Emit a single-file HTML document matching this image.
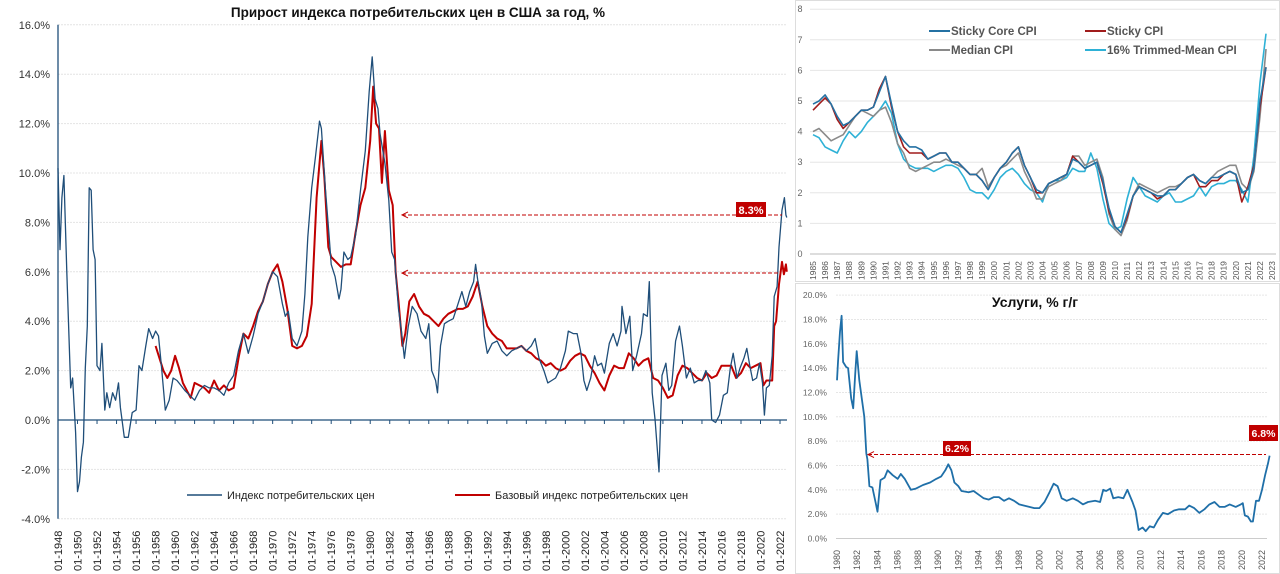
<!DOCTYPE html>
<html><head><meta charset="utf-8">
<style>
html,body{margin:0;padding:0;background:#fff;}
body{width:1280px;height:574px;overflow:hidden;position:relative;font-family:"Liberation Sans","DejaVu Sans",sans-serif;}
svg{position:absolute;left:0;top:0;}
text{font-family:"Liberation Sans","DejaVu Sans",sans-serif;}
</style></head>
<body>
<svg id="s" width="1280" height="574" viewBox="0 0 1280 574"></svg>
<script>
// ===== Main chart data =====
const cpiYears=[1948.0,1948.2,1948.4,1948.6,1948.9,1949.3,1949.5,1949.8,1950.0,1950.2,1950.4,1950.6,1950.8,1951.0,1951.2,1951.4,1951.6,1951.8,1952.0,1952.3,1952.5,1952.8,1953.0,1953.3,1953.6,1953.9,1954.2,1954.4,1954.8,1955.2,1955.6,1956.0,1956.3,1956.6,1957.0,1957.3,1957.7,1958.0,1958.3,1958.6,1959.0,1959.4,1959.8,1960.2,1960.6,1961.0,1961.5,1962.0,1962.5,1963.0,1963.5,1964.0,1964.5,1965.0,1965.5,1966.0,1966.5,1967.0,1967.5,1968.0,1968.5,1969.0,1969.5,1970.0,1970.5,1971.0,1971.3,1971.6,1972.0,1972.5,1973.0,1973.3,1973.6,1974.0,1974.4,1974.8,1975.0,1975.4,1975.8,1976.0,1976.4,1976.8,1977.0,1977.3,1977.7,1978.0,1978.5,1979.0,1979.5,1979.9,1980.2,1980.5,1980.8,1981.0,1981.5,1981.9,1982.2,1982.5,1982.9,1983.2,1983.5,1983.9,1984.3,1984.8,1985.2,1985.7,1986.0,1986.3,1986.7,1986.9,1987.2,1987.6,1988.0,1988.5,1989.0,1989.4,1989.8,1990.2,1990.6,1990.8,1991.0,1991.4,1991.7,1992.0,1992.5,1993.0,1993.5,1994.0,1994.5,1995.0,1995.5,1996.0,1996.5,1996.9,1997.3,1997.8,1998.2,1998.6,1999.0,1999.5,2000.0,2000.3,2000.8,2001.2,2001.6,2001.9,2002.2,2002.6,2003.0,2003.3,2003.7,2004.0,2004.5,2004.9,2005.3,2005.7,2005.8,2006.2,2006.6,2006.9,2007.3,2007.8,2008.0,2008.4,2008.6,2008.9,2009.2,2009.6,2009.9,2010.3,2010.6,2010.9,2011.3,2011.7,2012.0,2012.4,2012.8,2013.2,2013.6,2014.0,2014.4,2014.8,2015.0,2015.4,2015.8,2016.2,2016.6,2016.9,2017.2,2017.6,2017.9,2018.3,2018.6,2018.9,2019.2,2019.6,2019.9,2020.2,2020.4,2020.6,2020.9,2021.2,2021.4,2021.7,2021.9,2022.2,2022.45,2022.6,2022.7];
const cpiValues=[10.2,6.9,9.0,9.9,6.0,1.3,1.7,-0.5,-2.9,-2.5,-1.5,-0.9,2.1,3.8,9.4,9.3,6.9,6.5,2.2,2.0,3.1,0.4,1.1,0.5,1.1,0.8,1.5,0.5,-0.7,-0.7,0.3,0.4,2.2,2.0,3.0,3.7,3.3,3.6,3.4,2.2,0.4,0.8,1.7,1.6,1.4,1.2,1.0,0.8,1.2,1.4,1.3,1.3,1.2,1.0,1.5,1.8,2.8,3.5,2.7,3.4,4.3,4.8,5.5,6.0,5.8,4.7,4.2,4.4,3.3,3.0,3.6,5.1,7.4,9.4,10.7,12.1,11.8,9.4,7.4,6.3,5.8,4.9,5.3,6.8,6.5,6.6,7.5,9.3,10.9,13.3,14.7,13.0,12.6,11.6,10.4,8.9,6.8,6.5,4.5,3.6,2.5,3.8,4.6,4.3,3.6,3.3,3.9,2.0,1.6,1.1,3.0,3.9,4.0,4.1,4.7,5.2,4.6,5.2,5.6,6.3,5.7,4.8,3.4,2.7,3.1,3.2,2.8,2.6,2.8,2.9,3.0,2.8,3.0,3.3,2.5,2.0,1.5,1.6,1.7,2.1,2.8,3.6,3.5,3.5,2.7,1.6,1.2,1.7,2.6,2.2,2.3,1.9,3.1,3.5,3.0,3.6,4.6,3.5,4.2,2.0,2.6,3.5,4.3,4.2,5.6,1.1,0.0,-2.1,1.8,2.3,1.2,1.4,3.2,3.8,3.0,1.7,2.1,1.5,1.6,1.6,2.0,1.5,0.0,-0.1,0.2,1.0,1.1,2.1,2.7,1.7,2.1,2.5,2.9,2.2,1.6,1.7,2.3,1.5,0.2,1.3,1.4,2.6,5.0,5.4,7.0,8.5,9.0,8.3,8.2];
const coreYears=[1958.0,1958.4,1958.8,1959.2,1959.6,1960.0,1960.4,1960.8,1961.2,1961.6,1962.0,1962.5,1963.0,1963.5,1964.0,1964.5,1965.0,1965.5,1966.0,1966.5,1967.0,1967.5,1968.0,1968.5,1969.0,1969.5,1970.0,1970.5,1971.0,1971.5,1972.0,1972.5,1973.0,1973.5,1974.0,1974.5,1975.0,1975.3,1975.7,1976.0,1976.5,1977.0,1977.5,1978.0,1978.5,1979.0,1979.5,1980.0,1980.3,1980.6,1980.9,1981.2,1981.5,1981.9,1982.3,1982.6,1982.9,1983.3,1983.6,1984.0,1984.5,1985.0,1985.5,1986.0,1986.5,1987.0,1987.5,1988.0,1988.5,1989.0,1989.5,1990.0,1990.5,1991.0,1991.5,1992.0,1992.5,1993.0,1993.5,1994.0,1994.5,1995.0,1995.5,1996.0,1996.5,1997.0,1997.5,1998.0,1998.5,1999.0,1999.5,2000.0,2000.5,2001.0,2001.5,2002.0,2002.5,2003.0,2003.5,2004.0,2004.5,2005.0,2005.5,2006.0,2006.5,2007.0,2007.5,2008.0,2008.5,2009.0,2009.5,2010.0,2010.5,2011.0,2011.5,2012.0,2012.5,2013.0,2013.5,2014.0,2014.5,2015.0,2015.5,2016.0,2016.5,2017.0,2017.5,2018.0,2018.5,2019.0,2019.5,2020.0,2020.3,2020.6,2020.9,2021.2,2021.4,2021.6,2021.9,2022.2,2022.4,2022.6,2022.7];
const coreValues=[3.0,2.5,2.0,1.7,2.0,2.6,2.1,1.5,1.2,0.9,1.5,1.4,1.3,1.1,1.6,1.2,1.4,1.2,1.3,2.5,3.5,3.3,3.8,4.4,4.8,5.5,6.0,6.3,5.6,4.5,3.0,2.9,3.0,3.4,4.7,9.0,11.3,9.8,7.0,6.6,6.4,6.2,6.3,6.3,7.6,8.7,9.4,11.3,13.5,12.0,11.8,9.6,11.7,9.3,8.7,6.0,4.8,3.0,3.5,4.8,5.1,4.6,4.3,4.2,4.0,3.8,4.1,4.3,4.4,4.5,4.5,4.6,5.0,5.6,4.6,3.8,3.5,3.3,3.2,2.9,2.9,2.9,3.0,2.8,2.7,2.5,2.4,2.2,2.3,2.1,2.0,2.1,2.4,2.6,2.7,2.6,2.2,1.9,1.5,1.2,1.8,2.2,2.1,2.1,2.7,2.5,2.2,2.4,2.5,1.7,1.6,1.3,0.9,1.0,1.8,2.2,2.1,1.9,1.7,1.6,1.9,1.7,1.8,2.2,2.2,2.2,1.7,1.9,2.3,2.1,2.2,2.3,1.4,1.6,1.6,1.6,3.8,4.0,5.5,6.4,5.9,6.3,6.0];
const mainTicks=[16,14,12,10,8,6,4,2,0,-2,-4];
const mainYearLabels=[1948,1950,1952,1954,1956,1958,1960,1962,1964,1966,1968,1970,1972,1974,1976,1978,1980,1982,1984,1986,1988,1990,1992,1994,1996,1998,2000,2002,2004,2006,2008,2010,2012,2014,2016,2018,2020,2022];

// ===== Top-right chart data (semi-annual from 1985.0) =====
const tStart=1985, tStep=0.5;
const stickyCore=[4.9,5.0,5.2,4.9,4.5,4.2,4.3,4.5,4.7,4.7,4.8,5.3,5.8,4.9,4.0,3.7,3.5,3.5,3.4,3.1,3.2,3.3,3.3,3.0,3.0,2.8,2.6,2.6,2.4,2.1,2.5,2.8,3.0,3.3,3.5,2.9,2.5,2.1,2.0,2.3,2.4,2.5,2.6,3.1,3.0,2.8,2.9,3.0,2.4,1.5,0.9,0.7,1.3,1.9,2.2,2.1,2.0,1.9,1.9,2.1,2.1,2.3,2.5,2.6,2.4,2.3,2.5,2.5,2.6,2.7,2.6,2.0,2.1,2.8,5.0,6.1];
const stickyCPI=[4.7,4.9,5.1,4.9,4.4,4.1,4.3,4.5,4.7,4.7,4.8,5.4,5.8,4.8,4.0,3.5,3.3,3.3,3.3,3.1,3.2,3.3,3.3,3.0,3.0,2.8,2.6,2.6,2.4,2.1,2.5,2.8,3.0,3.3,3.5,2.9,2.5,2.0,2.0,2.3,2.4,2.5,2.6,3.2,3.0,2.8,2.9,3.0,2.3,1.4,0.9,0.7,1.2,1.9,2.2,2.1,2.0,1.8,1.9,2.1,2.1,2.3,2.5,2.6,2.2,2.2,2.4,2.4,2.6,2.7,2.6,1.7,2.2,2.9,4.8,6.1];
const medianCPI=[4.0,4.1,3.9,3.7,3.8,3.9,4.2,4.5,4.7,4.6,4.5,4.7,4.8,4.3,3.6,3.3,2.8,2.7,2.8,2.9,3.0,3.0,3.1,3.0,2.9,2.8,2.6,2.6,2.8,2.2,2.5,2.8,2.9,3.1,3.3,2.7,2.3,1.8,1.8,2.2,2.3,2.4,2.6,3.2,3.2,2.9,3.0,3.1,2.5,1.3,0.8,0.6,1.1,1.9,2.3,2.2,2.1,2.0,2.1,2.2,2.2,2.3,2.5,2.6,2.4,2.3,2.5,2.7,2.8,2.9,2.9,2.3,2.1,2.7,4.5,6.7];
const trimmedCPI=[3.9,3.8,3.5,3.4,3.3,3.7,4.0,3.8,4.0,4.3,4.5,4.7,5.0,4.6,3.6,3.1,2.9,2.8,2.8,2.8,2.7,2.8,2.9,2.9,2.8,2.5,2.1,2.0,2.0,1.8,2.1,2.5,2.7,2.8,2.6,2.3,2.1,2.0,1.7,2.3,2.4,2.4,2.5,2.8,2.7,2.7,3.3,2.8,1.8,1.0,0.8,0.9,1.8,2.5,2.2,1.9,1.8,1.7,1.9,2.0,1.7,1.7,1.8,1.9,2.2,1.9,2.2,2.3,2.3,2.4,2.4,2.1,1.7,3.2,5.6,7.2];
const trTicks=[0,1,2,3,4,5,6,7,8];

// ===== Bottom-right chart data =====
const svcYears=[1980.0,1980.1,1980.3,1980.45,1980.6,1980.9,1981.1,1981.4,1981.6,1981.8,1981.95,1982.2,1982.5,1982.7,1982.9,1983.0,1983.2,1983.5,1983.8,1984.0,1984.3,1984.7,1985.0,1985.5,1986.0,1986.3,1986.7,1987.3,1987.8,1988.5,1989.2,1989.8,1990.3,1990.7,1991.0,1991.3,1991.6,1992.0,1992.3,1993.0,1993.5,1994.0,1994.5,1995.0,1995.5,1996.0,1996.5,1997.0,1997.5,1998.0,1998.5,1999.0,1999.5,2000.0,2000.5,2001.0,2001.4,2001.8,2002.2,2002.7,2003.3,2003.8,2004.3,2004.8,2005.5,2006.0,2006.3,2006.6,2007.0,2007.3,2007.8,2008.3,2008.7,2009.2,2009.5,2009.8,2010.2,2010.5,2010.9,2011.3,2011.7,2012.2,2012.7,2013.3,2013.8,2014.4,2014.8,2015.3,2015.8,2016.3,2016.8,2017.3,2017.8,2018.3,2018.8,2019.4,2019.9,2020.1,2020.3,2020.6,2020.9,2021.1,2021.4,2021.7,2022.0,2022.3,2022.6,2022.75];
const svcValues=[13.0,14.5,17.0,18.3,14.5,14.1,14.0,11.5,10.7,13.5,15.4,13.0,11.2,10.0,7.0,6.5,4.3,4.2,3.0,2.2,4.8,5.0,5.6,5.2,4.9,5.3,4.9,4.0,4.1,4.4,4.6,4.9,5.1,5.6,6.1,5.6,4.6,4.3,3.9,3.8,3.9,3.6,3.3,3.2,3.4,3.4,3.1,3.3,3.1,2.8,2.7,2.6,2.5,2.5,3.0,3.8,4.5,4.3,3.3,3.1,3.3,3.1,2.8,3.0,3.1,3.0,4.0,3.9,4.1,3.3,3.4,3.3,4.0,3.0,2.3,0.7,0.9,0.6,1.0,0.9,1.5,2.1,2.0,2.3,2.4,2.4,2.7,2.5,2.1,2.4,2.8,3.0,2.6,2.6,2.8,2.6,2.8,2.9,1.9,1.8,1.4,1.4,3.1,3.1,4.0,5.2,6.2,6.8];
const brTicks=[0,2,4,6,8,10,12,14,16,18,20];
const brYearLabels=[1980,1982,1984,1986,1988,1990,1992,1994,1996,1998,2000,2002,2004,2006,2008,2010,2012,2014,2016,2018,2020,2022];

const NS='http://www.w3.org/2000/svg';
const svg=document.getElementById('s');
function el(tag,attrs,parent,txt){const e=document.createElementNS(NS,tag);for(const k in attrs)e.setAttribute(k,attrs[k]);if(txt!==undefined)e.textContent=txt;(parent||svg).appendChild(e);return e;}
function pathFrom(xs,ys,fx,fy){let d='';for(let i=0;i<xs.length;i++){d+=(i?'L':'M')+fx(xs[i]).toFixed(1)+','+fy(ys[i]).toFixed(1);}return d;}
function arrowDefs(){const defs=el('defs',{});const m=el('marker',{id:'ah',markerWidth:'8',markerHeight:'8',refX:'1',refY:'4',orient:'auto'},defs);el('path',{d:'M7,1 L1,4 L7,7',fill:'none',stroke:'#c00000','stroke-width':'1'},m);}
arrowDefs();

// ===== Main chart =====
const mx=y=>58+(y-1948)*9.757, my=v=>420-v*24.7;
const g1=el('g',{});


const t1=el('text',{x:418,y:17,'text-anchor':'middle','font-size':'13.5','font-weight':'bold',fill:'#111'},g1,'Прирост индекса потребительских цен  в США за год, %');


mainTicks.forEach(v=>{
  const gl=el('line',{x1:58,x2:787,y1:my(v),y2:my(v),stroke:'#e4e4e4','stroke-width':'1','stroke-dasharray':v===0?'':'2,1'},g1);
  
  
  const tl=el('text',{x:50,y:my(v)+4,'text-anchor':'end','font-size':'11',fill:'#333'},g1,v.toFixed(1)+'%');
  
  
});
const ya=el('line',{x1:58,x2:58,y1:my(16),y2:my(-4),stroke:'#1f4e79','stroke-width':'1.3'},g1);


const xa=el('line',{x1:58,x2:787,y1:my(0),y2:my(0),stroke:'#1f4e79','stroke-width':'1.3'},g1);


mainYearLabels.forEach(y=>{
  const x=mx(y);
  el('line',{x1:x,x2:x,y1:my(0),y2:my(0)+4,stroke:'#1f4e79'},g1);
  const lb=el('text',{x:0,y:0,transform:`translate(${x+4},${571}) rotate(-90)`,'font-size':'11',fill:'#222'},g1,'01-'+y);
  
  
});
const coreLine=el('path',{d:pathFrom(coreYears,coreValues,mx,my),fill:'none',stroke:'#c00000','stroke-width':'2','stroke-linejoin':'round'},g1);


const cpiLine=el('path',{d:pathFrom(cpiYears,cpiValues,mx,my),fill:'none',stroke:'#1f4e79','stroke-width':'1.3','stroke-linejoin':'round'},g1);


const a1=el('line',{x1:402,x2:782,y1:my(8.3),y2:my(8.3),stroke:'#c00000','stroke-dasharray':'4,2','marker-start':'url(#ah)'},g1);


const a2=el('line',{x1:402,x2:780,y1:my(5.95),y2:my(5.95),stroke:'#c00000','stroke-dasharray':'4,2','marker-start':'url(#ah)'},g1);


const b1=el('rect',{x:736,y:202,width:30,height:15,fill:'#c00000'},g1);


el('text',{x:751,y:214,'text-anchor':'middle','font-size':'11','font-weight':'bold',fill:'#fff'},g1,'8.3%');
el('line',{x1:187,x2:222,y1:495,y2:495,stroke:'#1f4e79','stroke-width':'1.5'},g1);
const l1=el('text',{x:227,y:499,'font-size':'11',fill:'#222'},g1,'Индекс потребительских цен');


el('line',{x1:455,x2:490,y1:495,y2:495,stroke:'#c00000','stroke-width':'2'},g1);
const l2=el('text',{x:495,y:499,'font-size':'11',fill:'#222'},g1,'Базовый индекс потребительских цен');



// ===== Top-right chart =====
const g2=el('g',{});


el('rect',{x:795.5,y:0.5,width:484,height:281,fill:'#fff',stroke:'#ddd'},g2);
const tx=y=>813+(y-1985)*12.08, ty=v=>254-v*30.6;
trTicks.forEach(v=>{
  el('line',{x1:810,x2:1276,y1:ty(v),y2:ty(v),stroke:v===0?'#bbb':'#e6e6e6'},g2);
  const tl=el('text',{x:800,y:ty(v)+3,'text-anchor':'middle','font-size':'9',fill:'#666'},g2,String(v));
  
  
});
for(let y=1985;y<=2023;y++){
  const lb=el('text',{x:0,y:0,transform:`translate(${tx(y)+3},${280}) rotate(-90)`,'font-size':'8.5',fill:'#555'},g2,String(y));
  
  
}
const tXs=stickyCore.map((_,i)=>tStart+i*tStep);
[[trimmedCPI,'#2eb1d6','trimmed-mean-cpi-line'],[medianCPI,'#8a8a8a','median-cpi-line'],[stickyCPI,'#a01c1c','sticky-cpi-line'],[stickyCore,'#2471a3','sticky-core-cpi-line']].forEach(([arr,c,n])=>{
  const p=el('path',{d:pathFrom(tXs,arr,tx,ty),fill:'none',stroke:c,'stroke-width':'1.6','stroke-linejoin':'round'},g2);
  
  
});
[[929,31,'#2471a3','Sticky Core CPI'],[1085,31,'#a01c1c','Sticky CPI'],[929,50,'#8a8a8a','Median CPI'],[1085,50,'#2eb1d6','16% Trimmed-Mean CPI']].forEach(([x,y,c,t])=>{
  el('line',{x1:x,x2:x+21,y1:y,y2:y,stroke:c,'stroke-width':'2'},g2);
  const lt=el('text',{x:x+22,y:y+4,'font-size':'11.5','font-weight':'bold',fill:'#555'},g2,t);
  
  
});

// ===== Bottom-right chart =====
const g3=el('g',{});


el('rect',{x:795.5,y:283.5,width:484,height:290,fill:'#fff',stroke:'#ddd'},g3);
const bx=y=>837+(y-1980)*10.12, by=v=>538.5-v*12.17;
brTicks.forEach(v=>{
  el('line',{x1:836,x2:1267,y1:by(v),y2:by(v),stroke:v===0?'#ccc':'#e6e6e6','stroke-dasharray':v===0?'':'2,1'},g3);
  const tl=el('text',{x:827,y:by(v)+3,'text-anchor':'end','font-size':'8.5',fill:'#666'},g3,v.toFixed(1)+'%');
  
  
});
brYearLabels.forEach(y=>{
  const lb=el('text',{x:0,y:0,transform:`translate(${bx(y)+3},${570}) rotate(-90)`,'font-size':'9',fill:'#555'},g3,String(y));
  
  
});
const st=el('text',{x:1035,y:307,'text-anchor':'middle','font-size':'14','font-weight':'bold',fill:'#111'},g3,'Услуги, % г/г');


const sl=el('path',{d:pathFrom(svcYears,svcValues,bx,by),fill:'none',stroke:'#1f6fa8','stroke-width':'1.8','stroke-linejoin':'round'},g3);


const a3=el('line',{x1:868,x2:1266,y1:by(6.9),y2:by(6.9),stroke:'#c00000','stroke-dasharray':'4,2','marker-start':'url(#ah)'},g3);


const b2=el('rect',{x:943,y:441,width:28,height:15,fill:'#c00000'},g3);


el('text',{x:957,y:452,'text-anchor':'middle','font-size':'10.5','font-weight':'bold',fill:'#fff'},g3,'6.2%');
const b3=el('rect',{x:1249,y:425,width:29,height:16,fill:'#c00000'},g3);


el('text',{x:1263.5,y:437,'text-anchor':'middle','font-size':'10.5','font-weight':'bold',fill:'#fff'},g3,'6.8%');
</script>
</body></html>
